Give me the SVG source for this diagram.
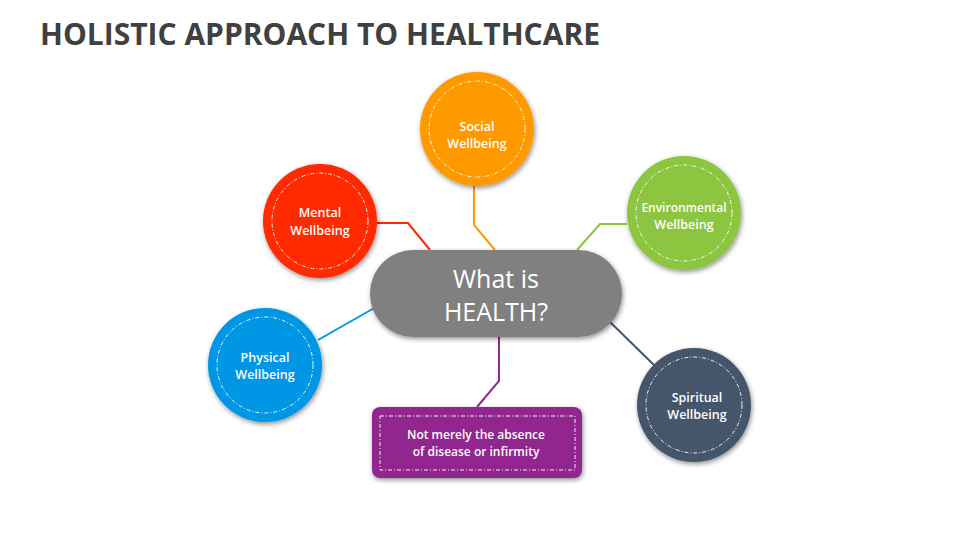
<svg xmlns="http://www.w3.org/2000/svg" width="960" height="540" viewBox="0 0 960 540">
<defs>
<filter id="sh" x="-30%" y="-30%" width="160%" height="160%">
<feGaussianBlur in="SourceAlpha" stdDeviation="2.5"/>
<feOffset dx="1" dy="2" result="b"/>
<feComponentTransfer><feFuncA type="linear" slope="0.45"/></feComponentTransfer>
<feMerge><feMergeNode/><feMergeNode in="SourceGraphic"/></feMerge>
</filter>
</defs>
<style>
.t{font-family:"Open Sans","Liberation Sans",sans-serif;fill:#ffffff;text-anchor:middle;font-weight:600}
.lbl{font-size:12.5px}
.big{font-size:25px;font-weight:400}
.dash{fill:none;stroke:#ffffff;stroke-width:1;stroke-dasharray:4 2 1 2;opacity:0.9}
.con{fill:none;stroke-width:2}
</style>
<rect width="960" height="540" fill="#ffffff"/>
<text x="40" y="45" font-family="'Open Sans','Liberation Sans',sans-serif" font-weight="700" font-size="30" fill="#404040" textLength="560" lengthAdjust="spacingAndGlyphs">HOLISTIC APPROACH TO HEALTHCARE</text>

<g id="connectors">
<polyline class="con" stroke="#FF2A00" points="377,223 408,223 430,250"/>
<polyline class="con" stroke="#FF9900" points="474,186 474,225 495,250"/>
<polyline class="con" stroke="#8CC63F" points="627,224 600,224 577,250"/>
<line class="con" stroke="#0096E6" x1="318" y1="340" x2="376" y2="307"/>
<line class="con" stroke="#44546A" x1="608" y1="320" x2="655" y2="366"/>
<polyline class="con" stroke="#92278F" points="499,337 499,381 477,407"/>
</g>

<g id="center">
<rect x="370" y="250" width="252" height="87" rx="43.5" fill="#808080" filter="url(#sh)"/>
<text class="t big" x="496" y="288">What is</text>
<text class="t big" x="496" y="321">HEALTH?</text>
</g>

<g id="mental">
<circle cx="320" cy="221" r="57" fill="#FF2A00" filter="url(#sh)"/>
<circle class="dash" cx="320" cy="221" r="48"/>
<text class="t lbl" x="320" y="217">Mental</text>
<text class="t lbl" x="320" y="235">Wellbeing</text>
</g>

<g id="social">
<circle cx="477" cy="129" r="57" fill="#FF9900" filter="url(#sh)"/>
<circle class="dash" cx="477" cy="129" r="48"/>
<text class="t lbl" x="477" y="131">Social</text>
<text class="t lbl" x="477" y="148">Wellbeing</text>
</g>

<g id="environmental">
<circle cx="684" cy="213" r="57" fill="#8CC63F" filter="url(#sh)"/>
<circle class="dash" cx="684" cy="213" r="48"/>
<text class="t" x="684" y="212" font-size="12" style="font-size:12px">Environmental</text>
<text class="t lbl" x="684" y="229">Wellbeing</text>
</g>

<g id="physical">
<circle cx="265" cy="365" r="57" fill="#0096E6" filter="url(#sh)"/>
<circle class="dash" cx="265" cy="365" r="48"/>
<text class="t lbl" x="265" y="362">Physical</text>
<text class="t lbl" x="265" y="379">Wellbeing</text>
</g>

<g id="spiritual">
<circle cx="694" cy="405" r="57" fill="#44546A" filter="url(#sh)"/>
<circle class="dash" cx="694" cy="405" r="48"/>
<text class="t lbl" x="697" y="402">Spiritual</text>
<text class="t lbl" x="697" y="419">Wellbeing</text>
</g>

<g id="definition">
<rect x="372" y="407" width="210" height="71" rx="8" fill="#92278F" filter="url(#sh)"/>
<rect class="dash" x="380" y="416" width="195" height="54"/>
<text class="t" x="476" y="439" style="font-size:12px">Not merely the absence</text>
<text class="t" x="476" y="456" style="font-size:12px">of disease or infirmity</text>
</g>
</svg>
